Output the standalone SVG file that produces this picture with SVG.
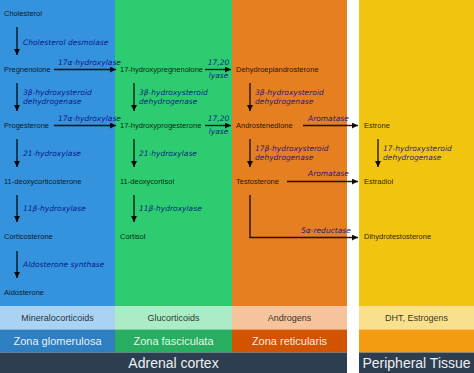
<svg xmlns="http://www.w3.org/2000/svg" width="474" height="373" viewBox="0 0 474 373">
<style>
.c{font-family:"Liberation Sans",Arial,sans-serif;font-size:7.5px;fill:#000;fill-opacity:.85}
.e{font-family:"DejaVu Sans",sans-serif;font-size:7.5px;font-style:italic;fill:#000080;fill-opacity:.85}
.b{font-family:"Liberation Sans",Arial,sans-serif;font-size:9px;fill:#000;fill-opacity:.8;text-anchor:middle}
.z{font-family:"Liberation Sans",Arial,sans-serif;font-size:11px;fill:#fff;fill-opacity:.9;text-anchor:middle}
.d{font-family:"Liberation Sans",Arial,sans-serif;font-size:14px;fill:#ecf0f1;text-anchor:middle}
.a{fill:none;stroke:#000;stroke-opacity:.85;stroke-width:1.4;marker-end:url(#ah)}
.m{text-anchor:middle}
</style>
<defs>
<marker id="ah" markerWidth="6" markerHeight="6" refX="6" refY="3" orient="auto" markerUnits="userSpaceOnUse">
<path d="M0,0 L6,3 L0,6 z" fill="#000" fill-opacity=".9"/>
</marker>
</defs>
<g id="background">
<rect x="0" y="0" width="474" height="373" fill="#fff"/>
<rect x="0" y="0" width="115" height="306" fill="#3592dc"/>
<rect x="115" y="0" width="117" height="306" fill="#2ecc71"/>
<rect x="232" y="0" width="115" height="306" fill="#e67e22"/>
<rect x="359" y="0" width="115" height="306" fill="#f1c40f"/>
<rect x="0" y="306" width="115" height="23.5" fill="#a9d2f3"/>
<rect x="115" y="306" width="117" height="23.5" fill="#abebc6"/>
<rect x="232" y="306" width="115" height="23.5" fill="#f5c49c"/>
<rect x="359" y="306" width="115" height="23.5" fill="#f9e08c"/>
<rect x="0" y="329.5" width="115" height="23" fill="#2e7fc2"/>
<rect x="115" y="329.5" width="117" height="23" fill="#27ae60"/>
<rect x="232" y="329.5" width="115" height="23" fill="#d35400"/>
<rect x="359" y="329.5" width="115" height="23" fill="#f39c12"/>
<rect x="0" y="352.5" width="347" height="20.5" fill="#2c3e50"/>
<rect x="359" y="352.5" width="115" height="20.5" fill="#2c3e50"/>
</g>
<g id="connectors">
<path class="a" d="M17,27 V55"/>
<path class="a" d="M17,83 V111"/>
<path class="a" d="M17,139 V167"/>
<path class="a" d="M17,195 V222"/>
<path class="a" d="M17,251 V278"/>
<path class="a" d="M54,69.5 H116"/>
<path class="a" d="M54,125.5 H116"/>
<path class="a" d="M134,83 V111"/>
<path class="a" d="M134,139 V167"/>
<path class="a" d="M134,195 V222"/>
<path class="a" d="M205,69.5 H231"/>
<path class="a" d="M205,125.5 H231"/>
<path class="a" d="M250,83 V111"/>
<path class="a" d="M250,139 V167"/>
<path class="a" d="M303,125.5 H358"/>
<path class="a" d="M287,181.5 H358"/>
<path class="a" d="M250,195 V237.5 H358"/>
<path class="a" d="M378,139 V167"/>
<text class="e" x="23" y="44.5">Cholesterol desmolase</text>
<text class="e" x="58" y="65">17α-hydroxylase</text>
<text class="e" x="58" y="121">17α-hydroxylase</text>
<text class="e" x="23" y="95">3β-hydroxysteroid</text>
<text class="e" x="23" y="103.5">dehydrogenase</text>
<text class="e" x="23" y="155.5">21-hydroxylase</text>
<text class="e" x="23" y="211">11β-hydroxylase</text>
<text class="e" x="23" y="267">Aldosterone synthase</text>
<text class="e" x="139" y="95">3β-hydroxysteroid</text>
<text class="e" x="139" y="103.5">dehydrogenase</text>
<text class="e" x="139" y="155.5">21-hydroxylase</text>
<text class="e" x="139" y="211">11β-hydroxylase</text>
<text class="e m" x="218.5" y="65">17,20</text>
<text class="e m" x="218.5" y="77.7">lyase</text>
<text class="e m" x="218.5" y="121">17,20</text>
<text class="e m" x="218.5" y="133.7">lyase</text>
<text class="e" x="255" y="95">3β-hydroxysteroid</text>
<text class="e" x="255" y="103.5">dehydrogenase</text>
<text class="e" x="255" y="150.5">17β-hydroxysteroid</text>
<text class="e" x="255" y="159.5">dehydrogenase</text>
<text class="e" x="308" y="121">Aromatase</text>
<text class="e" x="308" y="176">Aromatase</text>
<text class="e" x="301" y="233">5α-reductase</text>
<text class="e" x="383" y="150.5">17-hydroxysteroid</text>
<text class="e" x="383" y="159.5">dehydrogenase</text>
</g>
<g id="cholesterol"><text class="c" x="4" y="16">Cholesterol</text></g>
<g id="pregnenolone"><text class="c" x="4" y="72">Pregnenolone</text></g>
<g id="progesterone"><text class="c" x="4" y="128">Progesterone</text></g>
<g id="deoxycorticosterone"><text class="c" x="4" y="183.5">11-deoxycorticosterone</text></g>
<g id="corticosterone"><text class="c" x="4" y="239">Corticosterone</text></g>
<g id="aldosterone"><text class="c" x="4" y="294.5">Aldosterone</text></g>
<g id="hydroxypregnenolone"><text class="c" x="120" y="72">17-hydroxypregnenolone</text></g>
<g id="hydroxyprogesterone"><text class="c" x="120" y="128">17-hydroxyprogesterone</text></g>
<g id="deoxycortisol"><text class="c" x="120" y="183.5">11-deoxycortisol</text></g>
<g id="cortisol"><text class="c" x="120" y="239">Cortisol</text></g>
<g id="dhea"><text class="c" x="236" y="72">Dehydroepiandrosterone</text></g>
<g id="androstenedione"><text class="c" x="236" y="128">Androstenedione</text></g>
<g id="testosterone"><text class="c" x="236" y="183.5">Testosterone</text></g>
<g id="estrone"><text class="c" x="364" y="128">Estrone</text></g>
<g id="estradiol"><text class="c" x="364" y="183.5">Estradiol</text></g>
<g id="dht"><text class="c" x="364" y="239">Dihydrotestosterone</text></g>
<g id="bands">
<text class="b" x="57.5" y="321">Mineralocorticoids</text>
<text class="b" x="173.5" y="321">Glucorticoids</text>
<text class="b" x="289.5" y="321">Androgens</text>
<text class="b" x="416.5" y="321">DHT, Estrogens</text>
<text class="z" x="57.5" y="344.5">Zona glomerulosa</text>
<text class="z" x="173.5" y="344.5">Zona fasciculata</text>
<text class="z" x="289.5" y="344.5">Zona reticularis</text>
<text class="d" x="173.5" y="368">Adrenal cortex</text>
<text class="d" x="416.5" y="368">Peripheral Tissue</text>
</g>
</svg>
